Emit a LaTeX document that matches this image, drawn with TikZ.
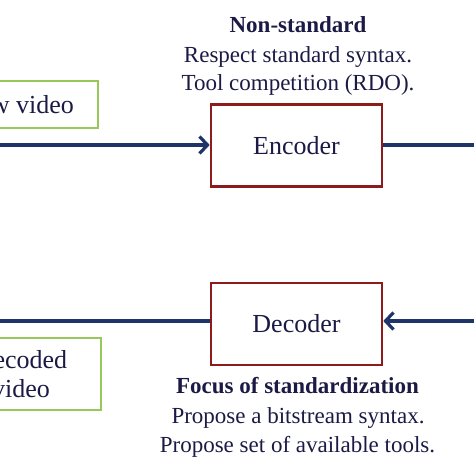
\documentclass[tikz,border=0pt]{standalone}
\usepackage{fontspec}
\setmainfont{Liberation Serif}
\usepackage{xcolor}
\usepackage{tikz}
\usetikzlibrary{arrows.meta, positioning, calc}

\definecolor{inkblue}{HTML}{1A1A45}
\definecolor{flowblue}{HTML}{1F3569}
\definecolor{boxred}{HTML}{8E1B1B}
\definecolor{videogreen}{HTML}{96C85A}

\begin{document}
\begin{tikzpicture}[x=1pt, y=-1pt,
    codec/.style={draw=boxred, line width=2.6pt, minimum width=171pt, minimum height=82pt,
      inner sep=0pt, font=\fontsize{26}{30}\selectfont, text=inkblue},
    videobox/.style={draw=videogreen, line width=2.2pt, minimum width=160pt,
      inner sep=0pt, font=\fontsize{26}{29}\selectfont, text=inkblue, align=center},
    note/.style={anchor=base, inner sep=0pt, font=\fontsize{23}{28}\selectfont, text=inkblue},
    flow/.style={draw=flowblue, line width=3.2pt},
    flowarrow/.style={flow, -{Straight Barb[length=8pt, width=17pt, line width=3.2pt]}}]
  \useasboundingbox (0,0) rectangle (474,474);
  \clip (0,0) rectangle (474,474);
  % codec boxes
  \node[codec] (enc) at (296.5,145.5) {Encoder};
  \node[codec] (dec) at (296.5,324) {Decoder};
  % video boxes, cut by the left border
  \node[videobox, minimum height=47pt] (raw) at (18,104.5) {Raw video};
  \node[videobox, minimum height=72pt] (decvid) at (21,374) {Decoded\\video};
  % free ends of the flow lines
  \coordinate (encin) at (-10,145);
  \coordinate (encout) at (484,145);
  \coordinate (decin) at (484,321);
  \coordinate (decout) at (-10,321);
  \draw[flowarrow] (encin) -- (enc.west |- encin);
  \draw[flow] (enc.east |- encout) -- (encout);
  \draw[flowarrow] (decin) -- (dec.east |- decin);
  \draw[flow] (dec.west |- decout) -- (decout);
  % notes
  \node[note, font=\fontsize{23}{28}\selectfont\bfseries] (nonstd) at (298,32) {Non-standard};
  \node[note] (syntax) at (298,62) {Respect standard syntax.};
  \node[note] (rdo) at (298,90) {Tool competition (RDO).};
  \node[note, font=\fontsize{23}{28}\selectfont\bfseries] (focus) at (297.5,393) {Focus of standardization};
  \node[note] (bitstream) at (298,423) {Propose a bitstream syntax.};
  \node[note] (tools) at (297.5,452) {Propose set of available tools.};
\end{tikzpicture}
\end{document}
